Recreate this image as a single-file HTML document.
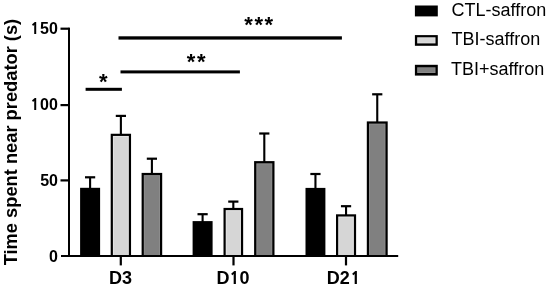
<!DOCTYPE html>
<html><head><meta charset="utf-8"><style>
html,body{margin:0;padding:0;background:#fff;}
svg{display:block;}
text{font-family:"Liberation Sans",sans-serif;fill:#000;}
.b{font-weight:bold;}
.n{font-family:"NanumGothic","Liberation Sans",sans-serif;font-weight:800;font-size:0.91em;}
</style></head><body>
<svg width="550" height="288" viewBox="0 0 550 288">
<rect width="550" height="288" fill="#fff"/>
<!-- y label -->
<text class="b" font-size="18.3" transform="translate(17,265.35) rotate(-90)">Time spent near predator (s)</text>
<!-- y tick labels -->
<g class="b" font-size="16" text-anchor="end">
<text x="58.6" y="34.3" class="b"><tspan class="n" dx="-0.8">1</tspan><tspan dx="0.8">50</tspan></text>
<text x="58.6" y="110.3" class="b"><tspan class="n" dx="-0.8">1</tspan><tspan dx="0.8">00</tspan></text>
<text x="58" y="185.9" class="b">50</text>
<text x="58" y="261.6" class="b">0</text>
</g>
<!-- axes -->
<rect x="68" y="27.6" width="2" height="229.4" fill="#000"/>
<rect x="60.5" y="27.6" width="8" height="2.2" fill="#000"/>
<rect x="60.5" y="104.0" width="8" height="2.2" fill="#000"/>
<rect x="60.5" y="179.3" width="8" height="2.2" fill="#000"/>
<rect x="61" y="255" width="337.2" height="2" fill="#000"/>
<rect x="119.7" y="256" width="2.2" height="9.4" fill="#000"/>
<rect x="232.4" y="256" width="2.2" height="9.4" fill="#000"/>
<rect x="344.9" y="256" width="2.2" height="9.4" fill="#000"/>
<!-- x labels -->
<text class="b" font-size="18" x="109" y="283.5">D3</text>
<text class="b" font-size="18" x="216.6" y="283.5">D<tspan class="n">1</tspan>0</text>
<text class="b" font-size="18" x="326.7" y="283.5">D2<tspan class="n" dx="0.9">1</tspan></text>
<!-- bars -->
<rect x="89.05" y="177.30" width="2.1" height="11.50" fill="#000"/>
<rect x="85.00" y="176.20" width="10.2" height="2.2" fill="#000"/>
<rect x="80.10" y="187.80" width="20.00" height="68.20" fill="#000"/>
<rect x="119.83" y="115.90" width="2.1" height="18.85" fill="#000"/>
<rect x="115.78" y="114.80" width="10.2" height="2.2" fill="#000"/>
<rect x="110.70" y="133.75" width="20.35" height="122.25" fill="#000"/>
<rect x="112.90" y="135.95" width="15.95" height="119.05" fill="#e4e4e4"/>
<rect x="113.90" y="136.95" width="13.95" height="118.05" fill="#d6d6d6"/>
<rect x="150.85" y="158.70" width="2.1" height="15.20" fill="#000"/>
<rect x="146.80" y="157.60" width="10.2" height="2.2" fill="#000"/>
<rect x="141.60" y="172.90" width="20.60" height="83.10" fill="#000"/>
<rect x="143.80" y="175.10" width="16.20" height="79.90" fill="#8c8c8c"/>
<rect x="144.80" y="176.10" width="14.20" height="78.90" fill="#808080"/>
<rect x="201.55" y="214.20" width="2.1" height="7.90" fill="#000"/>
<rect x="197.50" y="213.10" width="10.2" height="2.2" fill="#000"/>
<rect x="192.60" y="221.10" width="20.00" height="34.90" fill="#000"/>
<rect x="232.27" y="201.60" width="2.1" height="7.30" fill="#000"/>
<rect x="228.22" y="200.50" width="10.2" height="2.2" fill="#000"/>
<rect x="223.50" y="207.90" width="19.65" height="48.10" fill="#000"/>
<rect x="225.70" y="210.10" width="15.25" height="44.90" fill="#e4e4e4"/>
<rect x="226.70" y="211.10" width="13.25" height="43.90" fill="#d6d6d6"/>
<rect x="263.25" y="133.50" width="2.1" height="28.60" fill="#000"/>
<rect x="259.20" y="132.40" width="10.2" height="2.2" fill="#000"/>
<rect x="254.10" y="161.10" width="20.40" height="94.90" fill="#000"/>
<rect x="256.30" y="163.30" width="16.00" height="91.70" fill="#8c8c8c"/>
<rect x="257.30" y="164.30" width="14.00" height="90.70" fill="#808080"/>
<rect x="314.40" y="174.00" width="2.1" height="14.90" fill="#000"/>
<rect x="310.35" y="172.90" width="10.2" height="2.2" fill="#000"/>
<rect x="305.50" y="187.90" width="19.90" height="68.10" fill="#000"/>
<rect x="345.00" y="206.20" width="2.1" height="9.10" fill="#000"/>
<rect x="340.95" y="205.10" width="10.2" height="2.2" fill="#000"/>
<rect x="336.00" y="214.30" width="20.10" height="41.70" fill="#000"/>
<rect x="338.20" y="216.50" width="15.70" height="38.50" fill="#e4e4e4"/>
<rect x="339.20" y="217.50" width="13.70" height="37.50" fill="#d6d6d6"/>
<rect x="376.20" y="94.30" width="2.1" height="28.10" fill="#000"/>
<rect x="372.15" y="93.20" width="10.2" height="2.2" fill="#000"/>
<rect x="366.80" y="121.40" width="20.90" height="134.60" fill="#000"/>
<rect x="369.00" y="123.60" width="16.50" height="131.40" fill="#8c8c8c"/>
<rect x="370.00" y="124.60" width="14.50" height="130.40" fill="#808080"/>
<!-- significance -->
<rect x="85.6" y="87.8" width="36.3" height="3" fill="#000"/>
<rect x="120.5" y="70.4" width="119.4" height="3" fill="#000"/>
<rect x="118.5" y="36.3" width="223.4" height="3.3" fill="#000"/>
<text class="b" font-size="22" x="103.4" y="89.4" text-anchor="middle">*</text>
<text class="b" font-size="22" x="196.9" y="68.6" text-anchor="middle" letter-spacing="1.55">**</text>
<text class="b" font-size="22" x="259.5" y="31.8" text-anchor="middle" letter-spacing="1.55">***</text>
<!-- legend -->
<rect x="414.9" y="5.5" width="22.9" height="10.9" fill="#000"/>
<rect x="414.9" y="35.1" width="22.9" height="10.7" fill="#000"/>
<rect x="417.2" y="37.3" width="18.3" height="6.1" fill="#e4e4e4"/>
<rect x="418.0" y="38.1" width="16.7" height="4.5" fill="#d6d6d6"/>
<rect x="414.9" y="64.8" width="22.9" height="10.8" fill="#000"/>
<rect x="417.2" y="67.3" width="18.3" height="5.7" fill="#8c8c8c"/>
<rect x="418.0" y="68.1" width="16.7" height="4.1" fill="#808080"/>
<text font-size="18" x="451.5" y="16.4">CTL-saffron</text>
<text font-size="18" x="451.6" y="45.4">TBI-saffron</text>
<text font-size="18" x="451.1" y="74.9">TBI+saffron</text>
</svg>
</body></html>
